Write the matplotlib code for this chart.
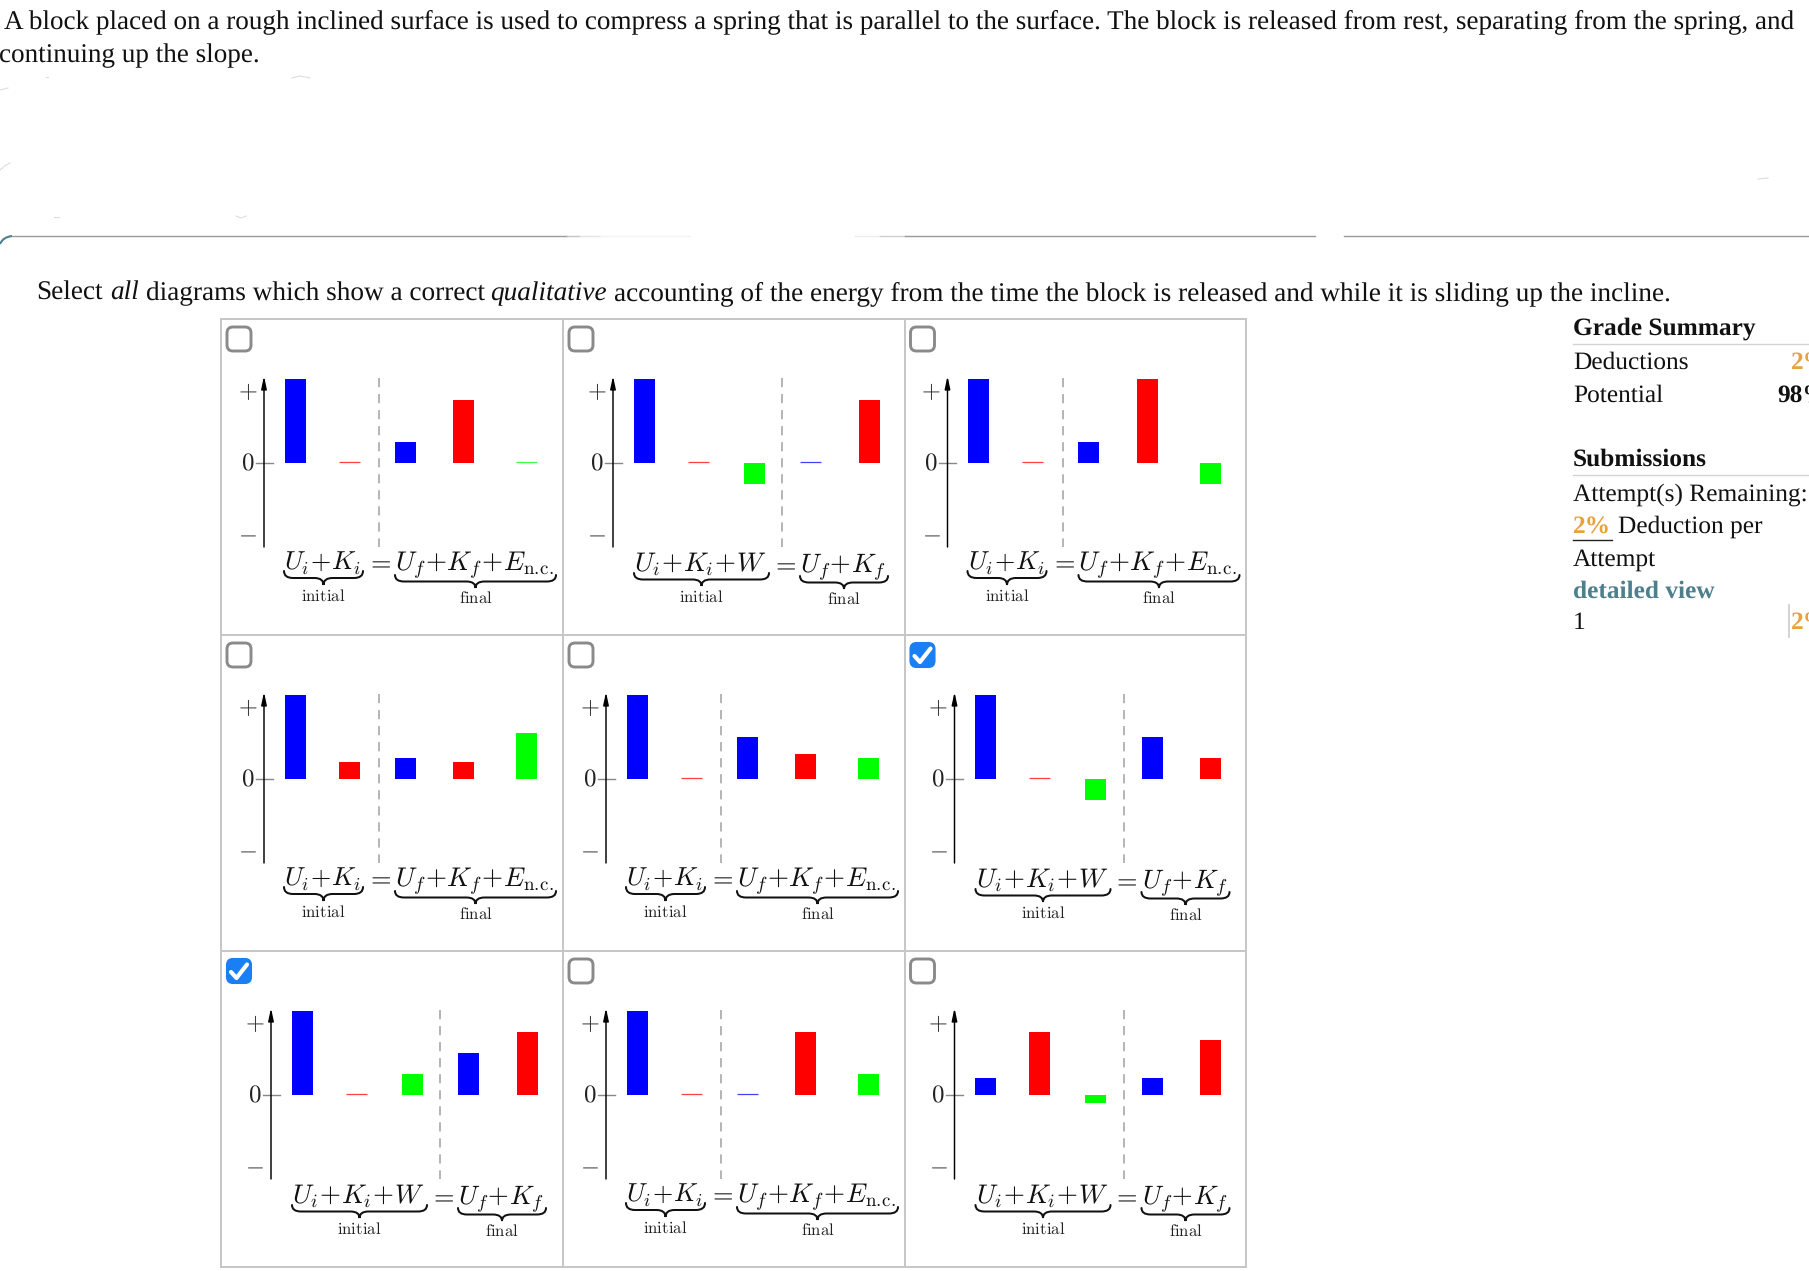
import matplotlib
matplotlib.use("Agg")
import matplotlib.pyplot as plt
from matplotlib.patches import FancyBboxPatch, PathPatch
from matplotlib.path import Path

plt.rcParams['mathtext.fontset'] = 'cm'
plt.rcParams['text.hinting'] = 'no_hinting'
SERIF = 'Liberation Serif'

# ---------- data (energy bars) ----------
Ui  = [4, 4, 4, 4, 4, 4, 4, 4, 0.8]
Ki  = [0, 0, 0, 0.8, 0, 0, 0, 0, 3]
W   = [None, -1, None, None, None, -1, 1, None, -0.4]
Uf  = [1, 0, 1, 1, 2, 2, 2, 0, 0.8]
Kf  = [3, 3, 4, 0.8, 1.2, 1, 3, 3, 2.6]
Enc = [0, None, -1, 2.2, 1, None, None, 1, None]
checked = [0, 0, 0, 0, 0, 1, 1, 0, 0]

BLUE, RED, GREEN = '#0000ff', '#ff0000', '#00ff00'

# ---------- layout (pixels) ----------
W_FIG, H_FIG = 1809, 1271
col_x = [221, 563, 904.5, 1246]
row_y = [319, 635, 951, 1267]
PX_UNIT = 21
ZERO = 144
BAR_W = 21
LAY = {
    'enc': dict(axis=43, bars=[74, 128, 184, 242.7, 305.7], dash=158,
                left=(63, 142), eq=158, right=(174, 335),
                base=250.5, lb=(252, 266), rb=(256, 269), lab=(282, 285),
                ltx=r'$U_i\!+\!K_i$',
                rtx=r'$U_f\!+\!K_f\!+\!E_{\mathrm{n.\!c.}}$'),
    'w': dict(axis=50, bars=[81, 135, 191, 247.5, 306], dash=219,
              left=(71, 206), eq=220.7, right=(237, 325),
              base=252.5, lb=(254, 267), rb=(257, 270), lab=(283, 286),
              ltx=r'$U_i\!+\!K_i\!+\!W$', rtx=r'$U_f\!+\!K_f$'),
}

fig = plt.figure(figsize=(W_FIG / 100, H_FIG / 100), dpi=100, facecolor='white')
ov = fig.add_axes([0, 0, 1, 1], zorder=5)
ov.set_xlim(0, W_FIG)
ov.set_ylim(H_FIG, 0)
ov.axis('off')
ov.patch.set_alpha(0)
r = fig.canvas.get_renderer()


def fit(t, width):
    w = t.get_window_extent(r).width
    t.set_fontsize(t.get_fontsize() * width / w)
    return t.get_fontsize()


def brace(x0, x1, y0, y1, lw=1.45):
    xm, ym = (x0 + x1) / 2, (y0 + y1) / 2
    c = min(9, (x1 - x0) / 4)
    v = [(x0, y0), (x0, ym), (x0 + c, ym), (xm - c, ym), (xm, ym), (xm, y1),
         (xm, ym), (xm + c, ym), (x1 - c, ym), (x1, ym), (x1, y0)]
    k = [Path.MOVETO, Path.CURVE3, Path.CURVE3, Path.LINETO, Path.CURVE3, Path.CURVE3,
         Path.CURVE3, Path.CURVE3, Path.LINETO, Path.CURVE3, Path.CURVE3]
    ov.add_patch(PathPatch(Path(v, k), fc='none', ec='#111111', lw=lw, capstyle='round'))


# ---------- panels ----------
for i in range(9):
    row, col = i // 3, i % 3
    x0, y0 = col_x[col], row_y[row]
    pw, ph = col_x[col + 1] - x0, row_y[row + 1] - y0
    kind = 'w' if W[i] is not None else 'enc'
    L = LAY[kind]
    ax = fig.add_axes([x0 / W_FIG, 1 - (y0 + ph) / H_FIG, pw / W_FIG, ph / H_FIG], zorder=2)
    ax.set_xlim(0, pw)
    ax.set_ylim(-(ph - ZERO) / PX_UNIT, ZERO / PX_UNIT)
    ax.axis('off')
    if kind == 'w':
        vals, cols = [Ui[i], Ki[i], W[i], Uf[i], Kf[i]], [BLUE, RED, GREEN, BLUE, RED]
    else:
        vals, cols = [Ui[i], Ki[i], Uf[i], Kf[i], Enc[i]], [BLUE, RED, BLUE, RED, GREEN]
    for xb, v, c in zip(L['bars'], vals, cols):
        if v == 0:
            ax.bar(xb, 0, BAR_W, bottom=0.03, color=c, ec=c, lw=0.9, alpha=0.75)
        else:
            ax.bar(xb, v, BAR_W, color=c, lw=0)

    ax_x = x0 + L['axis']
    # dashed divider, zero tick and value axis
    dx = x0 + L['dash']
    ov.plot([dx, dx], [y0 + 59, y0 + 228], color='#a0a0a0', lw=1.1, dashes=(6, 4.5))
    ov.plot([ax_x - 8.5, ax_x + 8.5], [y0 + ZERO, y0 + ZERO], color='#888888', lw=1.0)
    ov.annotate('', xy=(ax_x, y0 + 57), xytext=(ax_x, y0 + 228),
                arrowprops=dict(arrowstyle='-|>,head_length=0.75,head_width=0.16', color='black',
                                lw=1.05, shrinkA=0, shrinkB=0, mutation_scale=10))
    lx = ax_x - 16.5
    ov.text(lx, y0 + 72.5, r'$+$', fontsize=17.5, ha='center', va='center', color='#333333')
    ov.text(lx, y0 + ZERO + 1, r'$0$', fontsize=18, ha='center', va='center', color='#222222')
    ov.text(lx, y0 + 213.5, r'$-$', fontsize=17.5, ha='center', va='center', color='#333333')

    # equation
    base = y0 + L['base']
    xl0, xl1 = L['left']
    xr0, xr1 = L['right']
    t = ov.text(x0 + xl0, base, L['ltx'], fontsize=18, ha='left', va='baseline', color='#111111')
    fit(t, xl1 - xl0 - 2)
    ov.text(x0 + L['eq'], base, r'$=$', fontsize=19, ha='center', va='baseline', color='#111111')
    t = ov.text(x0 + xr0, base, L['rtx'], fontsize=18, ha='left', va='baseline', color='#111111')
    fit(t, xr1 - xr0 - 2)
    brace(x0 + xl0, x0 + xl1, y0 + L['lb'][0], y0 + L['lb'][1])
    brace(x0 + xr0, x0 + xr1, y0 + L['rb'][0], y0 + L['rb'][1])
    ov.text(x0 + (xl0 + xl1) / 2, y0 + L['lab'][0], r'$\mathrm{initial}$', fontsize=12.1,
            ha='center', va='baseline', color='#222222')
    ov.text(x0 + (xr0 + xr1) / 2, y0 + L['lab'][1], r'$\mathrm{final}$', fontsize=12.1,
            ha='center', va='baseline', color='#222222')

    # checkbox
    bx, by = x0 + 18, y0 + 20
    s = 12
    if checked[i]:
        ov.add_patch(FancyBboxPatch((bx - s, by - s), 2 * s, 2 * s, boxstyle='round,pad=0,rounding_size=6',
                                    fc='#1a7ff2', ec='#1a7ff2', lw=1.5))
        ov.plot([bx - 8, bx - 2.5, bx + 8], [by + 1, by + 7, by - 6.5], color='white', lw=3,
                solid_capstyle='round', solid_joinstyle='round')
    else:
        ov.add_patch(FancyBboxPatch((bx - s, by - s), 2 * s, 2 * s, boxstyle='round,pad=0,rounding_size=6',
                                    fc='white', ec='#8a8a8a', lw=2.1))

# panel borders
GRID = '#c6c6c6'
for x in col_x:
    ov.plot([x, x], [row_y[0], row_y[-1]], color=GRID, lw=1.4, solid_capstyle='projecting', zorder=1)
for y in row_y:
    ov.plot([col_x[0], col_x[-1]], [y, y], color=GRID, lw=1.4, solid_capstyle='projecting', zorder=1)

# ---------- paragraph text ----------
t1 = ov.text(4, 28, 'A block placed on a rough inclined surface is used to compress a spring that is parallel '
             'to the surface. The block is released from rest, separating from the spring, and',
             family=SERIF, fontsize=19, color='#111111')
fs = fit(t1, 1793)
ov.text(-1, 62, 'continuing up the slope.', family=SERIF, fontsize=fs, color='#111111')

t5 = ov.text(613.5, 300, 'accounting of the energy from the time the block is released and while it is sliding up the incline.',
             family=SERIF, fontsize=19, color='#111111')
fs2 = fit(t5, 1054.5)
ov.text(36.5, 300, 'Select', family=SERIF, fontsize=fs2, color='#111111')
ov.text(110, 300, 'all', family=SERIF, style='italic', fontsize=fs2, color='#111111')
ov.text(145.5, 300, 'diagrams which show a correct', family=SERIF, fontsize=fs2, color='#111111')
ov.text(490, 300, 'qualitative', family=SERIF, style='italic', fontsize=fs2, color='#111111')

# separator rule with its faded stretches
RULE = '#9a9a9a'
for a, b, c in [(12, 567, RULE), (567, 580, '#c4c4c4'), (580, 600, '#e4e4e4'), (600, 690, '#f3f3f3'),
                (855, 880, '#ececec'), (880, 905, '#cfcfcf'), (905, 1315, RULE), (1344, 1809, RULE)]:
    ov.plot([a, b], [236, 236], color=c, lw=1.0)
ov.add_patch(PathPatch(Path([(0, 244), (3, 237), (12, 236)], [Path.MOVETO, Path.CURVE3, Path.CURVE3]),
                       fc='none', ec='#4a7f8c', lw=1.5))
# faint scan specks
SPECK = '#dddddd'
for xs, ys in [((46, 48), (77, 77)), ((292, 300, 310), (78, 76, 78)), ((0, 6, 10), (170, 165, 163)),
               ((54, 59), (217, 217)), ((236, 241, 246), (216, 218, 216)), ((1758, 1768), (179, 178)),
               ((0, 8), (90, 88))]:
    ov.plot(xs, ys, color=SPECK, lw=0.8)

# ---------- side panel ----------
SX = 1573
ORANGE = '#e8a13c'
TEAL = '#4d7f8c'
FS = 18.4


def side(x, y, s, **kw):
    kw.setdefault('color', '#111111')
    kw.setdefault('fontsize', FS)
    return ov.text(x, y, s, family=SERIF, clip_on=False, **kw)


t = side(SX, 501, 'Attempt(s) Remaining:')
FS = fit(t, 234)
side(SX, 335, 'Grade Summary', weight='bold')
ov.plot([SX, W_FIG], [344, 344], color='#d4d4d4', lw=1.0)
side(SX, 369, 'Deductions')
side(1791, 369, '2%', weight='bold', color=ORANGE)
side(SX, 402, 'Potential')
side(1777, 402, '98%', weight='bold')
side(SX, 466, 'Submissions', weight='bold')
ov.plot([SX, W_FIG], [475, 475], color='#d4d4d4', lw=1.0)
side(SX, 533, '2%', weight='bold', color=ORANGE)
side(1618, 533, 'Deduction per')
ov.plot([SX, 1611.5], [539.5, 539.5], color='#222222', lw=1.0)
side(SX, 566, 'Attempt')
side(SX, 597.5, 'detailed view', weight='bold', color=TEAL)
side(SX, 629, '1')
ov.plot([1789, 1789], [605, 637], color='#cccccc', lw=1.2)
side(1791, 629, '2%', weight='bold', color=ORANGE)

fig.savefig('out.png', dpi=100, facecolor='white')
